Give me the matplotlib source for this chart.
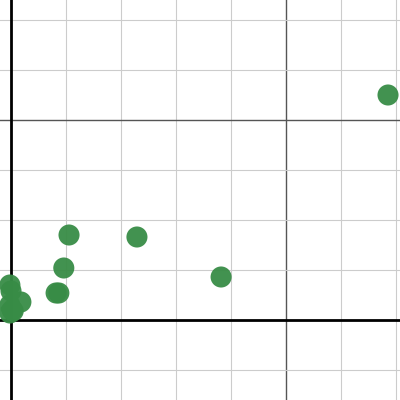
import matplotlib
matplotlib.use("Agg")
import matplotlib.pyplot as plt

xs = [6.855, 1.055, 2.29, 3.82, 0.96, -0.02, 0.0, 0.18, 0.82, 0.87, -0.02, 0.02, -0.02, 0.04]
ys = [4.5, 1.7, 1.66, 0.86, 1.04, 0.7, 0.58, 0.36, 0.54, 0.54, 0.3, 0.2, 0.14, 0.18]

fig = plt.figure(figsize=(4, 4), dpi=100)
ax = fig.add_axes([0, 0, 1, 1])
ax.set_xlim(-0.2, 7.073)
ax.set_ylim(-1.6, 6.4)
for v in range(0, 8):
    ax.axvline(v, color="#555555" if v == 5 else "#cccccc", lw=1 if v == 5 else 0.8, zorder=0)
for v in range(-1, 7):
    ax.axhline(v, color="#555555" if v == 4 else "#cccccc", lw=1 if v == 4 else 0.8, zorder=0)
ax.axvline(0, color="black", lw=2, zorder=1)
ax.axhline(0, color="black", lw=2, zorder=1)
ax.scatter(xs, ys, s=230, color="#388c46", alpha=0.95, edgecolors="none", zorder=3)
ax.set_xticks([]); ax.set_yticks([])
for s in ax.spines.values():
    s.set_visible(False)
fig.savefig("out.png", dpi=100)
